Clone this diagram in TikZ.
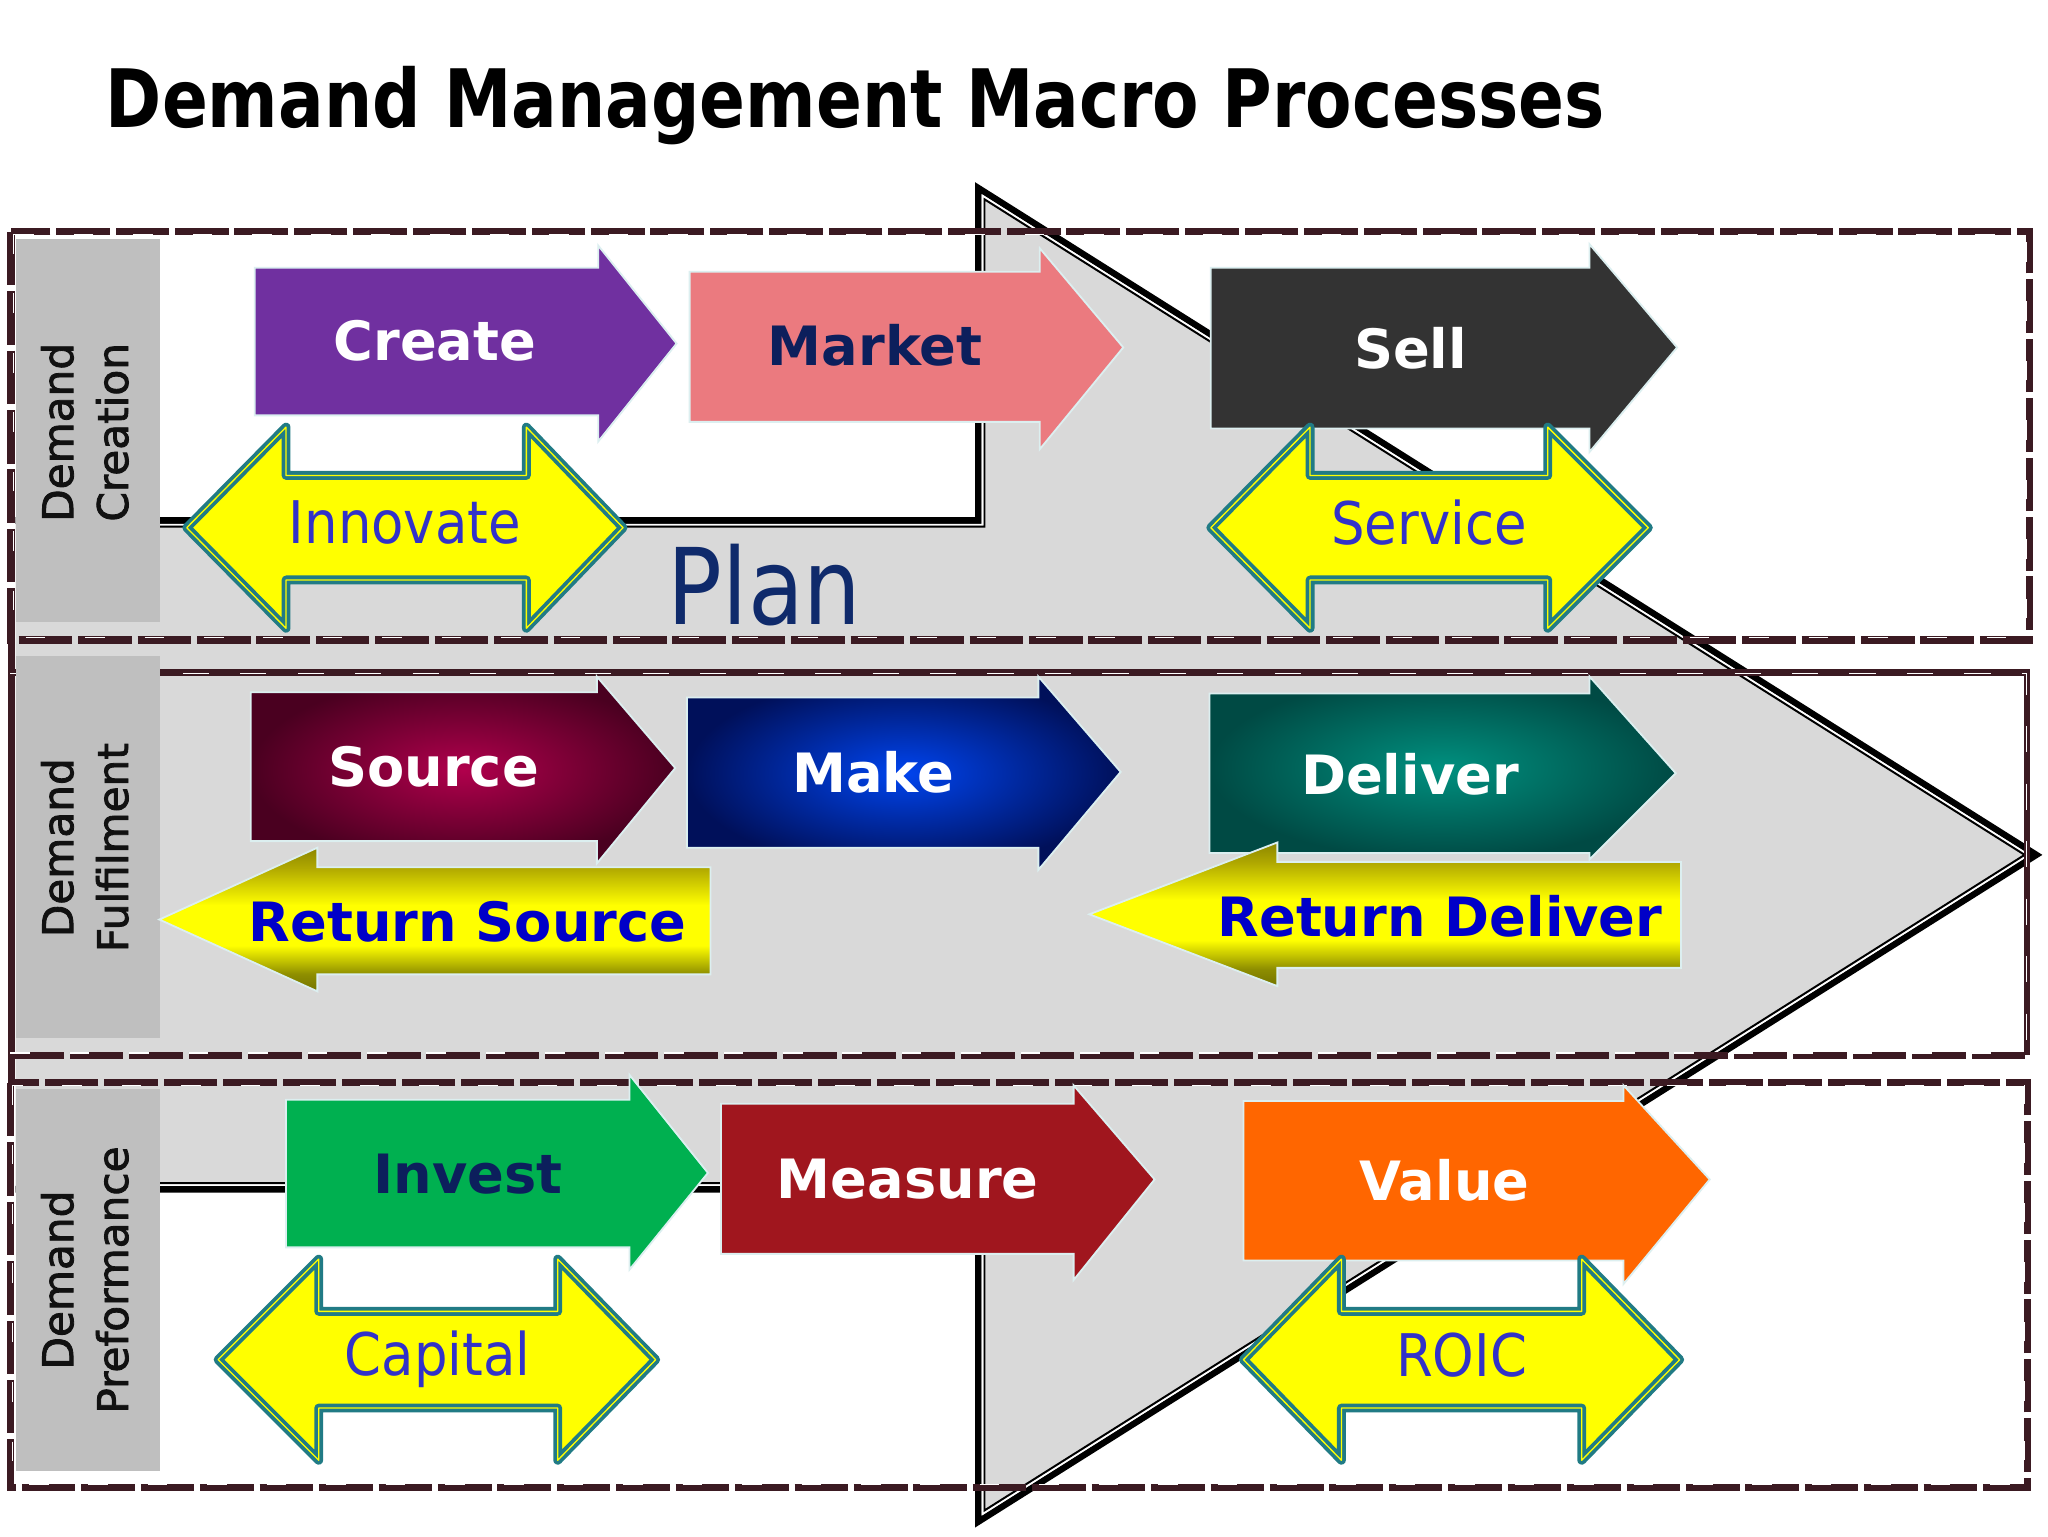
\documentclass[tikz,border=0pt]{standalone}
\usepackage{fontspec}
\setmainfont{DejaVu Sans}
\newfontfamily\labfont{DejaVu Sans}[FakeBold=2]
\usepackage{graphicx}
\definecolor{rowc}{HTML}{3B1A22}
\definecolor{plangrey}{HTML}{D9D9D9}
\definecolor{labgrey}{HTML}{BFBFBF}
\definecolor{cpurple}{HTML}{7030A0}
\definecolor{cpink}{HTML}{EB7A7F}
\definecolor{cdark}{HTML}{333333}
\definecolor{cgreen}{HTML}{00B050}
\definecolor{cred}{HTML}{A0161E}
\definecolor{corange}{HTML}{FF6600}
\definecolor{navy}{HTML}{0C1F5C}
\definecolor{plannavy}{HTML}{0F2A6B}
\definecolor{retblue}{HTML}{0000C8}
\definecolor{yblue}{HTML}{3232C8}
\definecolor{teal2}{HTML}{217B85}
\definecolor{edgec}{HTML}{DCEFF0}
\definecolor{srcin}{HTML}{B0004C}
\definecolor{srcout}{HTML}{4A0020}
\definecolor{mkin}{HTML}{0044EE}
\definecolor{mkout}{HTML}{00105A}
\definecolor{dlin}{HTML}{00907F}
\definecolor{dlout}{HTML}{004A44}
\definecolor{ytop}{HTML}{B0A800}
\definecolor{ytopd}{HTML}{8C8600}
\definecolor{ybot}{HTML}{8E8E00}
\definecolor{ybotd}{HTML}{747400}
\definecolor{yel}{HTML}{FFFF00}
\definecolor{labtext}{HTML}{111111}
\pgfdeclareverticalshading{retshade}{100bp}{color(0bp)=(ybotd); color(25bp)=(ybotd); color(31bp)=(ybot); color(41bp)=(yel); color(55bp)=(yel); color(68bp)=(ytop); color(75bp)=(ytopd); color(100bp)=(ytopd)}
\tikzset{
  rarr/.style n args={8}{insert path={(#1,#2) -- (#4,#2) -- (#4,#5) -- (#7,#8) -- (#4,#6) -- (#4,#3) -- (#1,#3) -- cycle}},
  larr/.style n args={8}{insert path={(#1,#2) -- (#3,#4) -- (#3,#6) -- (#8,#6) -- (#8,#7) -- (#3,#7) -- (#3,#5) -- cycle}},
  darr/.style n args={7}{insert path={(#1,#5) -- (#2,{#5-#6}) -- (#2,{#5-#7}) -- (#3,{#5-#7}) -- (#3,{#5-#6}) -- (#4,#5) -- (#3,{#5+#6}) -- (#3,{#5+#7}) -- (#2,{#5+#7}) -- (#2,{#5+#6}) -- cycle}},
  blk/.style={draw=edgec, line width=1.4pt},
  retarrow/.style={draw=edgec, line width=1.4pt, shade, shading=retshade},
  dbl/.style={draw=teal2, line width=2.9pt, double=yel, double distance=1pt, fill=yel, line join=round},
  btxt/.style={anchor=base, inner sep=0pt, font=\fontsize{41.5}{48}\selectfont\bfseries},
  ytxt/.style={anchor=base, inner sep=0pt, text=yblue, font=\fontsize{45}{52}\selectfont},
  ltxt/.style={anchor=base, inner sep=0pt, rotate=90, text=labtext, font=\labfont\fontsize{32.3}{38}\selectfont},
  rowdash/.style={draw=rowc, line width=5.5pt, dash pattern=on 41pt off 4.5pt},
  rowwhite/.style={draw=white, line width=0.8pt, dash pattern=on 15pt off 30.5pt},
  labcol/.style={fill=labgrey},
}
\begin{document}
\begin{tikzpicture}[x=1pt, y=-1pt]
\useasboundingbox (0,0) rectangle (1568,1176);
\fill[white] (0,0) rectangle (1568,1176);

% Plan arrow
\fill[plangrey] (12,398.5) -- (749,398.5) -- (749,144) -- (1559,654.5) -- (749,1165) -- (749,910.5) -- (12,910.5) -- cycle;
\draw[black, line width=5pt, line join=miter] (12,398.5) -- (749,398.5) -- (749,144) -- (1559,654.5) -- (749,1165) -- (749,910.5) -- (12,910.5);
\draw[white, line width=1.5pt] (15.25,401.75) -- (752.25,401.75) -- (752.25,149.9) -- (1552.9,654.5) -- (752.25,1159.1) -- (752.25,907.25) -- (15.25,907.25);
\draw[black, line width=1.5pt] (16.75,403.25) -- (753.75,403.25) -- (753.75,152.6) -- (1550.1,654.5) -- (753.75,1156.4) -- (753.75,905.75) -- (16.75,905.75);

% rows
\draw[rowdash] (8.4,177.4) rectangle (1553.6,490);
\draw[rowwhite] (10.2,179.2) rectangle (1551.8,488.2);
\draw[rowdash] (8,829) rectangle (1552,1138.7);
\draw[rowwhite] (9.8,830.8) rectangle (1550.2,1136.9);
\draw[rowc, line width=5pt] (9,490) -- (9,830);
\draw[rowc, line width=5pt] (8,515) -- (1552,515) -- (1552,808);
\draw[white, line width=1.2pt, dash pattern=on 20pt off 24pt] (8,515.5) -- (1551.5,515.5) -- (1551.5,808);
\draw[rowdash] (8,808) -- (1552,808);
\draw[rowwhite] (8,806.2) -- (1552,806.2);

% label columns
\fill[labcol] (12,183) rectangle (122.5,476);
\fill[labcol] (12,502) rectangle (122.5,795);
\fill[labcol] (12,834) rectangle (122.5,1126);
\node[ltxt] (l1a) at (56,331) {Demand};
\node[ltxt] (l1b) at (98,331) {Creation};
\node[ltxt] (l2a) at (56,649) {Demand};
\node[ltxt] (l2b) at (98,649) {Fulfilment};
\node[ltxt] (l3a) at (56,980) {Demand};
\node[ltxt] (l3b) at (98,980) {Preformance};

% block arrows
\path[blk, fill=cpurple, rarr={195}{205}{318}{458}{188}{338}{518}{263}];
\path[blk, fill=cpink, rarr={528}{208}{323}{796}{190}{344}{860}{266}];
\path[blk, fill=cdark, rarr={927}{205}{328}{1217}{187}{346}{1284}{266}];
\path[blk, inner color=srcin, outer color=srcout, rarr={192}{530}{644}{457}{518}{661}{517}{588}];
\path[blk, inner color=mkin, outer color=mkout, rarr={526}{534}{649}{795}{518}{666}{858}{591}];
\path[blk, inner color=dlin, outer color=dlout, rarr={926}{531}{653}{1217}{518}{658}{1283}{592}];
\path[blk, fill=cgreen, rarr={219}{842}{955}{482}{823}{972}{542}{898}];
\path[blk, fill=cred, rarr={552}{845}{960}{822}{831}{980}{884}{903}];
\path[blk, fill=corange, rarr={952}{843}{965}{1243}{831}{983}{1309}{903}];
\path[retarrow, larr={122}{704}{243}{649}{759}{664}{746}{544}];
\path[retarrow, larr={834}{700}{978}{645}{755}{660}{741}{1287}];

% double arrows
\path[dbl, darr={143}{219}{403}{477}{404}{77}{40}];
\path[dbl, darr={927}{1003}{1185}{1262}{404}{77}{40}];
\path[dbl, darr={167}{244}{427}{502}{1041}{77}{37}];
\path[dbl, darr={952}{1027}{1211}{1286}{1041}{77}{37}];

% texts
\node[anchor=base, inner sep=0pt, font=\fontsize{61.7}{70}\selectfont\bfseries] (title) at (655,97.5) {\scalebox{0.84}[1]{Demand Management Macro Processes}};
\node[anchor=base, inner sep=0pt, text=plannavy, font=\fontsize{81}{90}\selectfont] (plan) at (585.5,477.8) {\scalebox{0.86}[1]{Plan}};
\node[btxt, text=white] (tcreate) at (333,276) {Create};
\node[btxt, text=navy] (tmarket) at (670,280) {Market};
\node[btxt, text=white] (tsell) at (1080,282) {Sell};
\node[btxt, text=white] (tsource) at (332,602) {Source};
\node[btxt, text=white] (tmake) at (668.5,607) {Make};
\node[btxt, text=white] (tdeliver) at (1079.5,608) {Deliver};
\node[btxt, text=retblue] (tretsrc) at (358,721) {Return Source};
\node[btxt, text=retblue] (tretdel) at (1102.5,716.7) {Return Deliver};
\node[btxt, text=navy] (tinvest) at (358.5,913.7) {Invest};
\node[btxt, text=white] (tmeasure) at (695,917.5) {Measure};
\node[btxt, text=white] (tvalue) at (1106,919) {Value};
\node[ytxt] (tinnov) at (310,416) {\scalebox{0.9}[1]{Innovate}};
\node[ytxt] (tserv) at (1094,417) {\scalebox{0.9}[1]{Service}};
\node[ytxt] (tcap) at (335,1053) {\scalebox{0.9}[1]{Capital}};
\node[ytxt] (troic) at (1119,1053.6) {\scalebox{0.9}[1]{ROIC}};
\end{tikzpicture}
\end{document}
